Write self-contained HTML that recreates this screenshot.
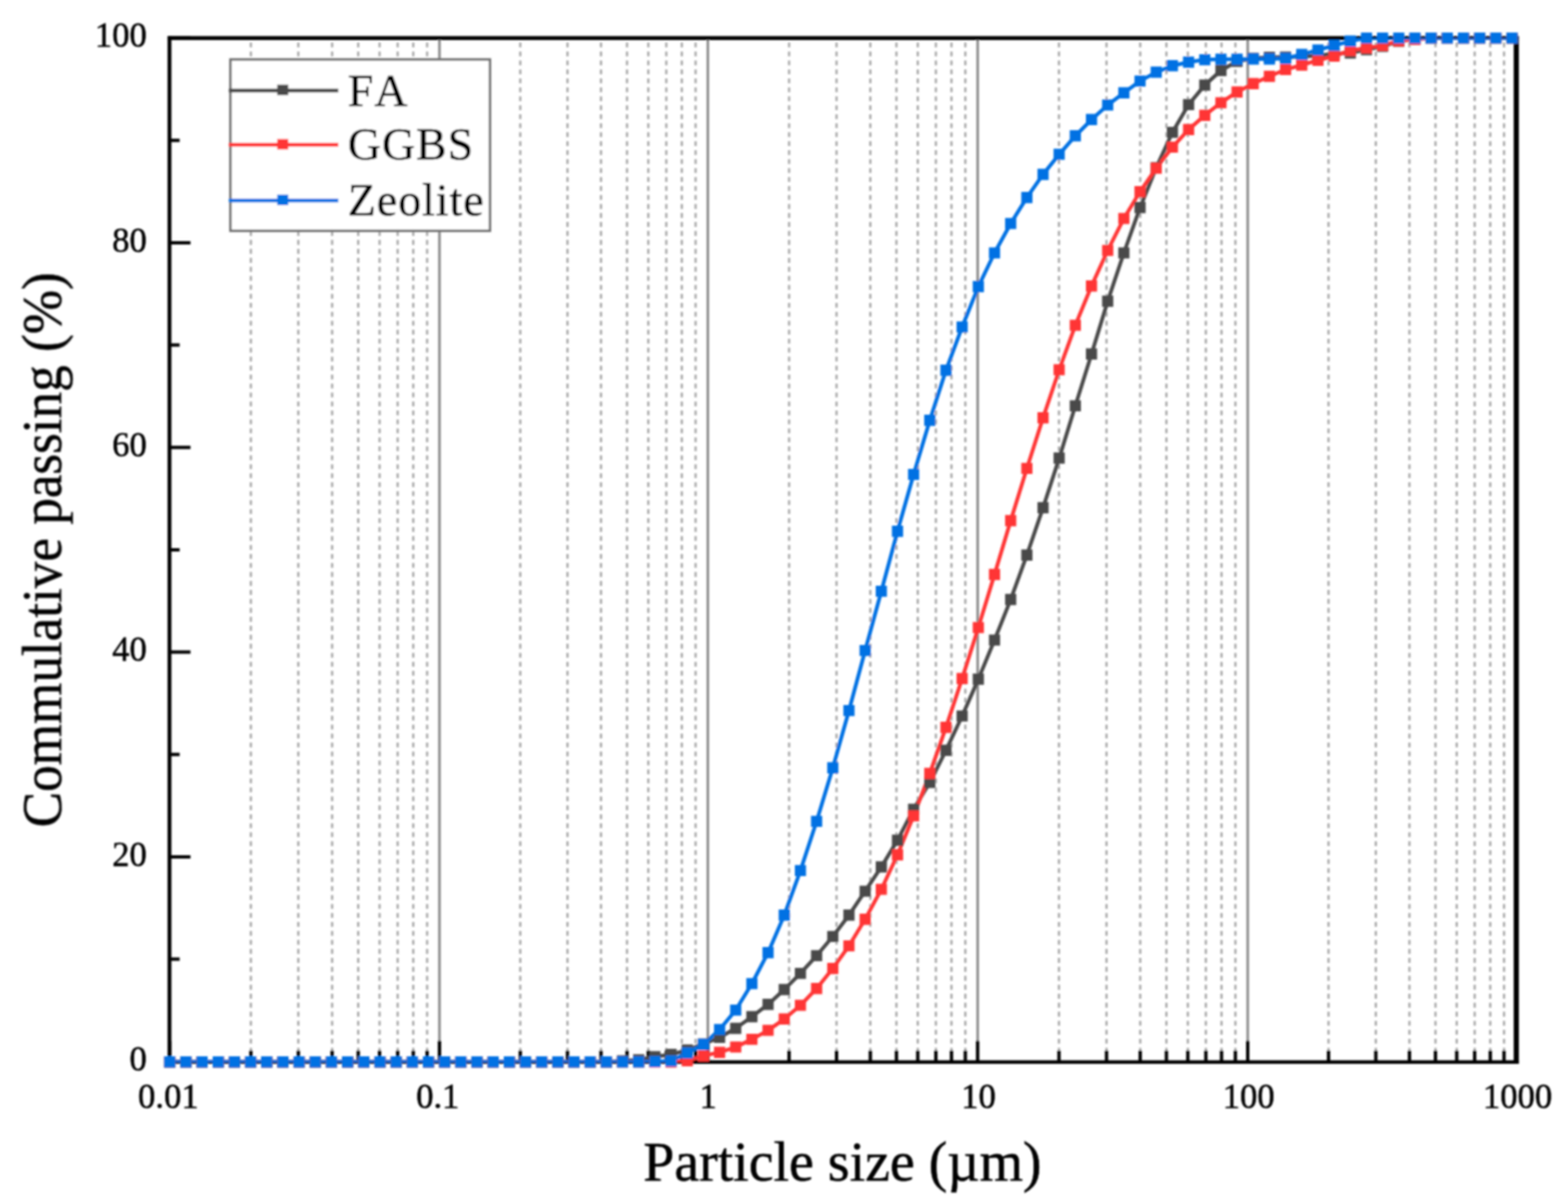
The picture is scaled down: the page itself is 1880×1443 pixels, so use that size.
<!DOCTYPE html>
<html><head><meta charset="utf-8"><title>Particle size distribution</title>
<style>html,body{margin:0;padding:0;background:#fff;}svg{display:block;}text{font-kerning:none;}</style>
</head><body>
<svg width="1880" height="1443" viewBox="0 0 1880 1443">
<defs><clipPath id="pc"><rect x="203.4" y="45.7" width="1614.6" height="1227.6"/></clipPath></defs>
<rect x="0" y="0" width="1880" height="1443" fill="#ffffff"/>
<filter id="bl" filterUnits="userSpaceOnUse" x="0" y="0" width="1880" height="1443"><feGaussianBlur stdDeviation="0.8"/></filter>
<g filter="url(#bl)">
<path d="M300.8 1272.5V45.7M357.7 1272.5V45.7M398.2 1272.5V45.7M429.5 1272.5V45.7M455.1 1272.5V45.7M476.8 1272.5V45.7M495.5 1272.5V45.7M512.1 1272.5V45.7M623.8 1272.5V45.7M680.4 1272.5V45.7M720.6 1272.5V45.7M751.8 1272.5V45.7M777.3 1272.5V45.7M798.9 1272.5V45.7M817.5 1272.5V45.7M834.0 1272.5V45.7M946.1 1272.5V45.7M1003.0 1272.5V45.7M1043.5 1272.5V45.7M1074.8 1272.5V45.7M1100.4 1272.5V45.7M1122.1 1272.5V45.7M1140.8 1272.5V45.7M1157.4 1272.5V45.7M1269.7 1272.5V45.7M1326.7 1272.5V45.7M1367.1 1272.5V45.7M1398.5 1272.5V45.7M1424.2 1272.5V45.7M1445.8 1272.5V45.7M1464.6 1272.5V45.7M1481.2 1272.5V45.7M1592.9 1272.5V45.7M1649.6 1272.5V45.7M1689.9 1272.5V45.7M1721.1 1272.5V45.7M1746.6 1272.5V45.7M1768.1 1272.5V45.7M1786.8 1272.5V45.7M1803.3 1272.5V45.7" stroke="#a8a8a8" stroke-width="2.7" stroke-dasharray="5.8 4.956" stroke-dashoffset="-0.3" fill="none"/>
<path d="M526.9 1272.5V45.7M848.7 1272.5V45.7M1172.2 1272.5V45.7M1496.0 1272.5V45.7" stroke="#888888" stroke-width="3.0" fill="none"/>
<path d="M203.20000000000002 43.400000000000006V1274.9" stroke="#000" stroke-width="4.6" fill="none"/>
<path d="M1818.0 43.400000000000006V1274.9" stroke="#000" stroke-width="6.2" fill="none"/>
<path d="M200.9 45.7H1821.1" stroke="#000" stroke-width="4.8" fill="none"/>
<path d="M200.9 1272.9H1821.1" stroke="#000" stroke-width="4.4" fill="none"/>
<path d="M203.4 1272.5V1247.5M526.9 1272.5V1247.5M848.7 1272.5V1247.5M1172.2 1272.5V1247.5M1496.0 1272.5V1247.5M1818.0 1272.5V1247.5M300.8 1272.5V1259.0M357.7 1272.5V1259.0M398.2 1272.5V1259.0M429.5 1272.5V1259.0M455.1 1272.5V1259.0M476.8 1272.5V1259.0M495.5 1272.5V1259.0M512.1 1272.5V1259.0M623.8 1272.5V1259.0M680.4 1272.5V1259.0M720.6 1272.5V1259.0M751.8 1272.5V1259.0M777.3 1272.5V1259.0M798.9 1272.5V1259.0M817.5 1272.5V1259.0M834.0 1272.5V1259.0M946.1 1272.5V1259.0M1003.0 1272.5V1259.0M1043.5 1272.5V1259.0M1074.8 1272.5V1259.0M1100.4 1272.5V1259.0M1122.1 1272.5V1259.0M1140.8 1272.5V1259.0M1157.4 1272.5V1259.0M1269.7 1272.5V1259.0M1326.7 1272.5V1259.0M1367.1 1272.5V1259.0M1398.5 1272.5V1259.0M1424.2 1272.5V1259.0M1445.8 1272.5V1259.0M1464.6 1272.5V1259.0M1481.2 1272.5V1259.0M1592.9 1272.5V1259.0M1649.6 1272.5V1259.0M1689.9 1272.5V1259.0M1721.1 1272.5V1259.0M1746.6 1272.5V1259.0M1768.1 1272.5V1259.0M1786.8 1272.5V1259.0M1803.3 1272.5V1259.0M203.4 1272.3H228.4M203.4 1149.6H215.4M203.4 1027.0H228.4M203.4 904.3H215.4M203.4 781.6H228.4M203.4 658.9H215.4M203.4 536.3H228.4M203.4 413.6H215.4M203.4 290.9H228.4M203.4 168.3H215.4M203.4 45.6H228.4" stroke="#000" stroke-width="4.0" fill="none"/>
<g clip-path="url(#pc)">
<polyline points="203.5,1272.8 222.9,1272.8 242.3,1272.8 261.7,1272.8 281.1,1272.8 300.4,1272.8 319.8,1272.8 339.2,1272.8 358.6,1272.8 378.0,1272.8 397.4,1272.8 416.8,1272.8 436.2,1272.8 455.6,1272.8 475.0,1272.8 494.4,1272.8 513.7,1272.8 533.1,1272.8 552.5,1272.8 571.9,1272.8 591.3,1272.8 610.7,1272.8 630.1,1272.8 649.5,1272.8 668.9,1272.8 688.2,1272.8 707.6,1272.8 727.0,1272.8 746.4,1271.5 765.8,1270.3 785.2,1266.5 804.6,1263.8 824.0,1258.5 843.4,1251.2 862.8,1243.3 882.1,1232.5 901.5,1218.5 920.9,1203.8 940.3,1186.0 959.7,1166.6 979.1,1145.4 998.5,1122.4 1017.9,1096.8 1037.3,1068.1 1056.7,1039.0 1076.1,1007.0 1095.4,969.9 1114.8,937.9 1134.2,899.3 1153.6,858.1 1173.0,814.0 1192.4,767.1 1211.8,718.5 1231.2,665.3 1250.6,608.5 1270.0,549.0 1289.3,486.4 1308.7,424.3 1328.1,361.0 1347.5,303.1 1366.9,248.8 1386.3,201.0 1405.7,158.6 1425.1,125.4 1444.5,102.0 1463.9,84.5 1483.2,73.5 1502.6,70.0 1522.0,68.6 1541.4,68.5 1560.8,68.0 1580.2,66.5 1599.6,64.5 1619.0,63.5 1638.4,59.6 1657.8,55.5 1677.1,49.5 1696.5,46.5 1715.9,45.6 1735.3,45.6 1754.7,45.6 1774.1,45.6 1793.5,45.6 1812.9,45.6" stroke="#4a4a4a" stroke-width="4.5" fill="none" stroke-linejoin="round"/>
<polyline points="203.5,1272.8 222.9,1272.8 242.3,1272.8 261.7,1272.8 281.1,1272.8 300.4,1272.8 319.8,1272.8 339.2,1272.8 358.6,1272.8 378.0,1272.8 397.4,1272.8 416.8,1272.8 436.2,1272.8 455.6,1272.8 475.0,1272.8 494.4,1272.8 513.7,1272.8 533.1,1272.8 552.5,1272.8 571.9,1272.8 591.3,1272.8 610.7,1272.8 630.1,1272.8 649.5,1272.8 668.9,1272.8 688.2,1272.8 707.6,1272.8 727.0,1272.8 746.4,1272.8 765.8,1272.8 785.2,1272.8 804.6,1272.8 824.0,1271.3 843.4,1265.4 862.8,1261.2 882.1,1254.9 901.5,1245.6 920.9,1234.9 940.3,1221.3 959.7,1204.9 979.1,1184.8 998.5,1160.7 1017.9,1133.6 1037.3,1101.7 1056.7,1065.9 1076.1,1024.5 1095.4,977.9 1114.8,927.0 1134.2,871.8 1153.6,813.2 1173.0,752.1 1192.4,688.5 1211.8,624.0 1231.2,561.4 1250.6,500.8 1270.0,443.1 1289.3,389.9 1308.7,342.7 1328.1,300.1 1347.5,261.9 1366.9,229.7 1386.3,201.6 1405.7,176.4 1425.1,155.3 1444.5,138.3 1463.9,123.1 1483.2,110.2 1502.6,100.3 1522.0,91.5 1541.4,83.3 1560.8,78.0 1580.2,72.2 1599.6,67.2 1619.0,60.5 1638.4,57.4 1657.8,54.4 1677.1,49.1 1696.5,47.2 1715.9,45.6 1735.3,45.6 1754.7,45.6 1774.1,45.6 1793.5,45.6 1812.9,45.6" stroke="#ff3636" stroke-width="4.5" fill="none" stroke-linejoin="round"/>
<polyline points="203.5,1272.8 222.9,1272.8 242.3,1272.8 261.7,1272.8 281.1,1272.8 300.4,1272.8 319.8,1272.8 339.2,1272.8 358.6,1272.8 378.0,1272.8 397.4,1272.8 416.8,1272.8 436.2,1272.8 455.6,1272.8 475.0,1272.8 494.4,1272.8 513.7,1272.8 533.1,1272.8 552.5,1272.8 571.9,1272.8 591.3,1272.8 610.7,1272.8 630.1,1272.8 649.5,1272.8 668.9,1272.8 688.2,1272.8 707.6,1272.8 727.0,1272.8 746.4,1272.8 765.8,1272.8 785.2,1272.2 804.6,1271.5 824.0,1262.0 843.4,1251.8 862.8,1233.9 882.1,1210.6 901.5,1178.9 920.9,1141.8 940.3,1096.8 959.7,1043.4 979.1,984.4 998.5,920.3 1017.9,851.6 1037.3,779.6 1056.7,708.6 1076.1,636.7 1095.4,568.6 1114.8,503.8 1134.2,443.7 1153.6,391.9 1173.0,343.5 1192.4,303.1 1211.8,267.9 1231.2,236.8 1250.6,209.0 1270.0,184.9 1289.3,162.8 1308.7,143.3 1328.1,125.9 1347.5,111.2 1366.9,97.1 1386.3,86.5 1405.7,78.8 1425.1,74.5 1444.5,71.6 1463.9,71.0 1483.2,71.0 1502.6,70.8 1522.0,70.8 1541.4,70.0 1560.8,65.3 1580.2,59.9 1599.6,54.5 1619.0,49.3 1638.4,45.6 1657.8,45.6 1677.1,45.6 1696.5,45.6 1715.9,45.6 1735.3,45.6 1754.7,45.6 1774.1,45.6 1793.5,45.6 1812.9,45.6" stroke="#0071e3" stroke-width="4.5" fill="none" stroke-linejoin="round"/>
</g>
<path d="M196.8 1266.1h13.4v13.4h-13.4zM216.2 1266.1h13.4v13.4h-13.4zM235.6 1266.1h13.4v13.4h-13.4zM255.0 1266.1h13.4v13.4h-13.4zM274.4 1266.1h13.4v13.4h-13.4zM293.8 1266.1h13.4v13.4h-13.4zM313.1 1266.1h13.4v13.4h-13.4zM332.5 1266.1h13.4v13.4h-13.4zM351.9 1266.1h13.4v13.4h-13.4zM371.3 1266.1h13.4v13.4h-13.4zM390.7 1266.1h13.4v13.4h-13.4zM410.1 1266.1h13.4v13.4h-13.4zM429.5 1266.1h13.4v13.4h-13.4zM448.9 1266.1h13.4v13.4h-13.4zM468.3 1266.1h13.4v13.4h-13.4zM487.7 1266.1h13.4v13.4h-13.4zM507.0 1266.1h13.4v13.4h-13.4zM526.4 1266.1h13.4v13.4h-13.4zM545.8 1266.1h13.4v13.4h-13.4zM565.2 1266.1h13.4v13.4h-13.4zM584.6 1266.1h13.4v13.4h-13.4zM604.0 1266.1h13.4v13.4h-13.4zM623.4 1266.1h13.4v13.4h-13.4zM642.8 1266.1h13.4v13.4h-13.4zM662.2 1266.1h13.4v13.4h-13.4zM681.5 1266.1h13.4v13.4h-13.4zM700.9 1266.1h13.4v13.4h-13.4zM720.3 1266.1h13.4v13.4h-13.4zM739.7 1264.8h13.4v13.4h-13.4zM759.1 1263.6h13.4v13.4h-13.4zM778.5 1259.8h13.4v13.4h-13.4zM797.9 1257.1h13.4v13.4h-13.4zM817.3 1251.8h13.4v13.4h-13.4zM836.7 1244.5h13.4v13.4h-13.4zM856.1 1236.6h13.4v13.4h-13.4zM875.4 1225.8h13.4v13.4h-13.4zM894.8 1211.8h13.4v13.4h-13.4zM914.2 1197.1h13.4v13.4h-13.4zM933.6 1179.3h13.4v13.4h-13.4zM953.0 1159.9h13.4v13.4h-13.4zM972.4 1138.7h13.4v13.4h-13.4zM991.8 1115.7h13.4v13.4h-13.4zM1011.2 1090.1h13.4v13.4h-13.4zM1030.6 1061.4h13.4v13.4h-13.4zM1050.0 1032.3h13.4v13.4h-13.4zM1069.4 1000.3h13.4v13.4h-13.4zM1088.7 963.2h13.4v13.4h-13.4zM1108.1 931.2h13.4v13.4h-13.4zM1127.5 892.6h13.4v13.4h-13.4zM1146.9 851.4h13.4v13.4h-13.4zM1166.3 807.3h13.4v13.4h-13.4zM1185.7 760.4h13.4v13.4h-13.4zM1205.1 711.8h13.4v13.4h-13.4zM1224.5 658.6h13.4v13.4h-13.4zM1243.9 601.8h13.4v13.4h-13.4zM1263.2 542.3h13.4v13.4h-13.4zM1282.6 479.7h13.4v13.4h-13.4zM1302.0 417.6h13.4v13.4h-13.4zM1321.4 354.3h13.4v13.4h-13.4zM1340.8 296.4h13.4v13.4h-13.4zM1360.2 242.1h13.4v13.4h-13.4zM1379.6 194.3h13.4v13.4h-13.4zM1399.0 151.9h13.4v13.4h-13.4zM1418.4 118.7h13.4v13.4h-13.4zM1437.8 95.3h13.4v13.4h-13.4zM1457.2 77.8h13.4v13.4h-13.4zM1476.5 66.8h13.4v13.4h-13.4zM1495.9 63.3h13.4v13.4h-13.4zM1515.3 61.9h13.4v13.4h-13.4zM1534.7 61.8h13.4v13.4h-13.4zM1554.1 61.3h13.4v13.4h-13.4zM1573.5 59.8h13.4v13.4h-13.4zM1592.9 57.8h13.4v13.4h-13.4zM1612.3 56.8h13.4v13.4h-13.4zM1631.7 52.9h13.4v13.4h-13.4zM1651.0 48.8h13.4v13.4h-13.4zM1670.4 42.8h13.4v13.4h-13.4zM1689.8 39.8h13.4v13.4h-13.4zM1709.2 38.9h13.4v13.4h-13.4zM1728.6 38.9h13.4v13.4h-13.4zM1748.0 38.9h13.4v13.4h-13.4zM1767.4 38.9h13.4v13.4h-13.4zM1786.8 38.9h13.4v13.4h-13.4zM1806.2 38.9h13.4v13.4h-13.4z" fill="#4a4a4a"/>
<path d="M196.8 1266.1h13.4v13.4h-13.4zM216.2 1266.1h13.4v13.4h-13.4zM235.6 1266.1h13.4v13.4h-13.4zM255.0 1266.1h13.4v13.4h-13.4zM274.4 1266.1h13.4v13.4h-13.4zM293.8 1266.1h13.4v13.4h-13.4zM313.1 1266.1h13.4v13.4h-13.4zM332.5 1266.1h13.4v13.4h-13.4zM351.9 1266.1h13.4v13.4h-13.4zM371.3 1266.1h13.4v13.4h-13.4zM390.7 1266.1h13.4v13.4h-13.4zM410.1 1266.1h13.4v13.4h-13.4zM429.5 1266.1h13.4v13.4h-13.4zM448.9 1266.1h13.4v13.4h-13.4zM468.3 1266.1h13.4v13.4h-13.4zM487.7 1266.1h13.4v13.4h-13.4zM507.0 1266.1h13.4v13.4h-13.4zM526.4 1266.1h13.4v13.4h-13.4zM545.8 1266.1h13.4v13.4h-13.4zM565.2 1266.1h13.4v13.4h-13.4zM584.6 1266.1h13.4v13.4h-13.4zM604.0 1266.1h13.4v13.4h-13.4zM623.4 1266.1h13.4v13.4h-13.4zM642.8 1266.1h13.4v13.4h-13.4zM662.2 1266.1h13.4v13.4h-13.4zM681.5 1266.1h13.4v13.4h-13.4zM700.9 1266.1h13.4v13.4h-13.4zM720.3 1266.1h13.4v13.4h-13.4zM739.7 1266.1h13.4v13.4h-13.4zM759.1 1266.1h13.4v13.4h-13.4zM778.5 1266.1h13.4v13.4h-13.4zM797.9 1266.1h13.4v13.4h-13.4zM817.3 1264.6h13.4v13.4h-13.4zM836.7 1258.7h13.4v13.4h-13.4zM856.1 1254.5h13.4v13.4h-13.4zM875.4 1248.2h13.4v13.4h-13.4zM894.8 1238.9h13.4v13.4h-13.4zM914.2 1228.2h13.4v13.4h-13.4zM933.6 1214.6h13.4v13.4h-13.4zM953.0 1198.2h13.4v13.4h-13.4zM972.4 1178.1h13.4v13.4h-13.4zM991.8 1154.0h13.4v13.4h-13.4zM1011.2 1126.9h13.4v13.4h-13.4zM1030.6 1095.0h13.4v13.4h-13.4zM1050.0 1059.2h13.4v13.4h-13.4zM1069.4 1017.8h13.4v13.4h-13.4zM1088.7 971.2h13.4v13.4h-13.4zM1108.1 920.3h13.4v13.4h-13.4zM1127.5 865.1h13.4v13.4h-13.4zM1146.9 806.5h13.4v13.4h-13.4zM1166.3 745.4h13.4v13.4h-13.4zM1185.7 681.8h13.4v13.4h-13.4zM1205.1 617.3h13.4v13.4h-13.4zM1224.5 554.7h13.4v13.4h-13.4zM1243.9 494.1h13.4v13.4h-13.4zM1263.2 436.4h13.4v13.4h-13.4zM1282.6 383.2h13.4v13.4h-13.4zM1302.0 336.0h13.4v13.4h-13.4zM1321.4 293.4h13.4v13.4h-13.4zM1340.8 255.2h13.4v13.4h-13.4zM1360.2 223.0h13.4v13.4h-13.4zM1379.6 194.9h13.4v13.4h-13.4zM1399.0 169.7h13.4v13.4h-13.4zM1418.4 148.6h13.4v13.4h-13.4zM1437.8 131.6h13.4v13.4h-13.4zM1457.2 116.4h13.4v13.4h-13.4zM1476.5 103.5h13.4v13.4h-13.4zM1495.9 93.6h13.4v13.4h-13.4zM1515.3 84.8h13.4v13.4h-13.4zM1534.7 76.6h13.4v13.4h-13.4zM1554.1 71.3h13.4v13.4h-13.4zM1573.5 65.5h13.4v13.4h-13.4zM1592.9 60.5h13.4v13.4h-13.4zM1612.3 53.8h13.4v13.4h-13.4zM1631.7 50.7h13.4v13.4h-13.4zM1651.0 47.7h13.4v13.4h-13.4zM1670.4 42.4h13.4v13.4h-13.4zM1689.8 40.5h13.4v13.4h-13.4zM1709.2 38.9h13.4v13.4h-13.4zM1728.6 38.9h13.4v13.4h-13.4zM1748.0 38.9h13.4v13.4h-13.4zM1767.4 38.9h13.4v13.4h-13.4zM1786.8 38.9h13.4v13.4h-13.4zM1806.2 38.9h13.4v13.4h-13.4z" fill="#ff3636"/>
<path d="M196.8 1266.1h13.4v13.4h-13.4zM216.2 1266.1h13.4v13.4h-13.4zM235.6 1266.1h13.4v13.4h-13.4zM255.0 1266.1h13.4v13.4h-13.4zM274.4 1266.1h13.4v13.4h-13.4zM293.8 1266.1h13.4v13.4h-13.4zM313.1 1266.1h13.4v13.4h-13.4zM332.5 1266.1h13.4v13.4h-13.4zM351.9 1266.1h13.4v13.4h-13.4zM371.3 1266.1h13.4v13.4h-13.4zM390.7 1266.1h13.4v13.4h-13.4zM410.1 1266.1h13.4v13.4h-13.4zM429.5 1266.1h13.4v13.4h-13.4zM448.9 1266.1h13.4v13.4h-13.4zM468.3 1266.1h13.4v13.4h-13.4zM487.7 1266.1h13.4v13.4h-13.4zM507.0 1266.1h13.4v13.4h-13.4zM526.4 1266.1h13.4v13.4h-13.4zM545.8 1266.1h13.4v13.4h-13.4zM565.2 1266.1h13.4v13.4h-13.4zM584.6 1266.1h13.4v13.4h-13.4zM604.0 1266.1h13.4v13.4h-13.4zM623.4 1266.1h13.4v13.4h-13.4zM642.8 1266.1h13.4v13.4h-13.4zM662.2 1266.1h13.4v13.4h-13.4zM681.5 1266.1h13.4v13.4h-13.4zM700.9 1266.1h13.4v13.4h-13.4zM720.3 1266.1h13.4v13.4h-13.4zM739.7 1266.1h13.4v13.4h-13.4zM759.1 1266.1h13.4v13.4h-13.4zM778.5 1265.5h13.4v13.4h-13.4zM797.9 1264.8h13.4v13.4h-13.4zM817.3 1255.3h13.4v13.4h-13.4zM836.7 1245.1h13.4v13.4h-13.4zM856.1 1227.2h13.4v13.4h-13.4zM875.4 1203.9h13.4v13.4h-13.4zM894.8 1172.2h13.4v13.4h-13.4zM914.2 1135.1h13.4v13.4h-13.4zM933.6 1090.1h13.4v13.4h-13.4zM953.0 1036.7h13.4v13.4h-13.4zM972.4 977.7h13.4v13.4h-13.4zM991.8 913.6h13.4v13.4h-13.4zM1011.2 844.9h13.4v13.4h-13.4zM1030.6 772.9h13.4v13.4h-13.4zM1050.0 701.9h13.4v13.4h-13.4zM1069.4 630.0h13.4v13.4h-13.4zM1088.7 561.9h13.4v13.4h-13.4zM1108.1 497.1h13.4v13.4h-13.4zM1127.5 437.0h13.4v13.4h-13.4zM1146.9 385.2h13.4v13.4h-13.4zM1166.3 336.8h13.4v13.4h-13.4zM1185.7 296.4h13.4v13.4h-13.4zM1205.1 261.2h13.4v13.4h-13.4zM1224.5 230.1h13.4v13.4h-13.4zM1243.9 202.3h13.4v13.4h-13.4zM1263.2 178.2h13.4v13.4h-13.4zM1282.6 156.1h13.4v13.4h-13.4zM1302.0 136.6h13.4v13.4h-13.4zM1321.4 119.2h13.4v13.4h-13.4zM1340.8 104.5h13.4v13.4h-13.4zM1360.2 90.4h13.4v13.4h-13.4zM1379.6 79.8h13.4v13.4h-13.4zM1399.0 72.1h13.4v13.4h-13.4zM1418.4 67.8h13.4v13.4h-13.4zM1437.8 64.9h13.4v13.4h-13.4zM1457.2 64.3h13.4v13.4h-13.4zM1476.5 64.3h13.4v13.4h-13.4zM1495.9 64.1h13.4v13.4h-13.4zM1515.3 64.1h13.4v13.4h-13.4zM1534.7 63.3h13.4v13.4h-13.4zM1554.1 58.6h13.4v13.4h-13.4zM1573.5 53.2h13.4v13.4h-13.4zM1592.9 47.8h13.4v13.4h-13.4zM1612.3 42.6h13.4v13.4h-13.4zM1631.7 38.9h13.4v13.4h-13.4zM1651.0 38.9h13.4v13.4h-13.4zM1670.4 38.9h13.4v13.4h-13.4zM1689.8 38.9h13.4v13.4h-13.4zM1709.2 38.9h13.4v13.4h-13.4zM1728.6 38.9h13.4v13.4h-13.4zM1748.0 38.9h13.4v13.4h-13.4zM1767.4 38.9h13.4v13.4h-13.4zM1786.8 38.9h13.4v13.4h-13.4zM1806.2 38.9h13.4v13.4h-13.4z" fill="#0071e3"/>
<rect x="276.3" y="71.3" width="311.1" height="205.3" fill="#fff" stroke="#707070" stroke-width="3"/>
<path d="M274.5 108.5H405.6" stroke="#4a4a4a" stroke-width="4.5"/>
<rect x="332.4" y="101.5" width="13.2" height="12.6" fill="#4a4a4a"/>
<path d="M274.5 173.6H405.6" stroke="#ff3636" stroke-width="4.5"/>
<rect x="332.4" y="166.6" width="13.2" height="12.6" fill="#ff3636"/>
<path d="M274.5 240.3H405.6" stroke="#0071e3" stroke-width="4.5"/>
<rect x="332.4" y="233.3" width="13.2" height="12.6" fill="#0071e3"/>
<g font-family="'Liberation Serif', 'Times New Roman', serif" stroke="#000" stroke-width="0.6" font-size="55" letter-spacing="1.2" fill="#000">
<text x="417" y="127">FA</text>
<text x="417" y="191">GGBS</text>
<text x="417" y="258">Zeolite</text>
</g>
<g font-family="'Liberation Serif', 'Times New Roman', serif" stroke="#000" stroke-width="0.6" font-size="41.5" fill="#000">
<text x="176" y="1283.1" text-anchor="end">0</text>
<text x="176" y="1037.8" text-anchor="end">20</text>
<text x="176" y="792.4" text-anchor="end">40</text>
<text x="176" y="547.1" text-anchor="end">60</text>
<text x="176" y="301.7" text-anchor="end">80</text>
<text x="176" y="56.4" text-anchor="end">100</text>
<text x="201.9" y="1328" text-anchor="middle">0.01</text>
<text x="524.9" y="1328" text-anchor="middle">0.1</text>
<text x="849.2" y="1328" text-anchor="middle">1</text>
<text x="1173.2" y="1328" text-anchor="middle">10</text>
<text x="1497.0" y="1328" text-anchor="middle">100</text>
<text x="1819.5" y="1328" text-anchor="middle">1000</text>
</g>
<text font-family="'Liberation Serif', 'Times New Roman', serif" stroke="#000" stroke-width="0.6" font-size="67" x="1010" y="1415" text-anchor="middle">Particle size (µm)</text>
<text font-family="'Liberation Serif', 'Times New Roman', serif" stroke="#000" stroke-width="0.6" font-size="67" transform="translate(73.2 659) rotate(-90) scale(0.951 1)" text-anchor="middle">Commulative passing (%)</text>
</g>
</svg>
</body></html>
